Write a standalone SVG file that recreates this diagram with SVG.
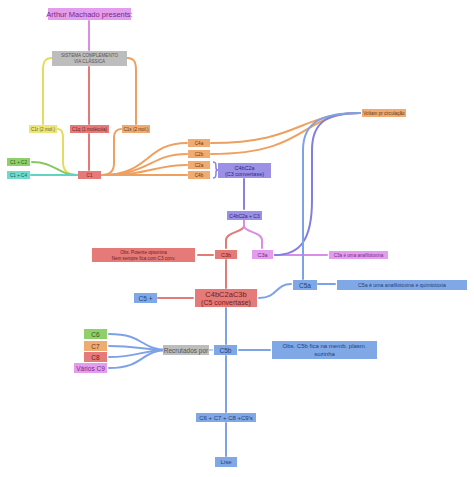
<svg xmlns="http://www.w3.org/2000/svg" width="474" height="477" viewBox="0 0 474 477">
<style>
text{font-family:"Liberation Sans",Arial,sans-serif;text-anchor:middle;dominant-baseline:central}
.c{fill:none;stroke-width:2;stroke-linecap:round}
.vi{fill:#e29ded}.gr{fill:#bdbdbd}.ye{fill:#ece57a}.re{fill:#e57a78}.or{fill:#efab72}.gn{fill:#8fd06a}.cy{fill:#6fdccb}.pu{fill:#9b8fe6}.bl{fill:#80a8e6}
.tvi{fill:#7a2a88}.tgr{fill:#555}.tye{fill:#6d6420}.tre{fill:#6e2222}.tor{fill:#6b3a10}.tgn{fill:#2f5a1a}.tcy{fill:#1d5a52}.tpu{fill:#2f2a7a}.tbl{fill:#1f3f78}
.s{font-size:4.6px}.m{font-size:6.5px}.l{font-size:7.5px}
</style>
<g id="connectors">
<path class="c" stroke="#d98de6" d="M89,21 V50"/>
<path class="c" stroke="#e6dc5c" d="M52,58 C45,58 43,62 43,70 V124"/>
<path class="c" stroke="#e27a77" d="M89,67 V124"/>
<path class="c" stroke="#eea060" d="M127,58 C134,58 136,62 136,70 V124"/>
<path class="c" stroke="#e6dc5c" d="M58,129 C62,129 63,132 63,138 V162 C63,170 67,175 77,175"/>
<path class="c" stroke="#e27a77" d="M89,134 V170"/>
<path class="c" stroke="#eea060" d="M121,129 C117,129 114,132 114,138 V163 C114,171 110,175 102,175"/>
<path class="c" stroke="#86c862" d="M32,162 C55,162 58,175 77,175"/>
<path class="c" stroke="#5fd4c2" d="M31,175 H77"/>
<path class="c" stroke="#eea060" d="M102,175 C150,175 145,143 187,143"/>
<path class="c" stroke="#eea060" d="M102,175 C150,175 150,154 187,154"/>
<path class="c" stroke="#eea060" d="M102,175 C150,175 155,165 187,165"/>
<path class="c" stroke="#eea060" d="M102,175 H187"/>
<path class="c" stroke="#eea060" d="M211,143 C300,143 300,113 360,113"/>
<path class="c" stroke="#eea060" d="M211,154 C310,154 300,113 360,113"/>
<path fill="none" stroke="#8a7fe0" stroke-width="1.5" d="M213,162 C216,162 216,164 216,168 C216,170 217,170 218,170 C217,170 216,170 216,172 C216,176 216,178 213,178"/>
<path class="c" stroke="#8a7fe0" d="M244,179 V209"/>
<path class="c" stroke="#e27a77" d="M244,221 V226 C244,232 226,232 226,240 V248"/>
<path class="c" stroke="#d98de6" d="M244,221 V226 C244,232 262,232 262,240 V248"/>
<path class="c" stroke="#e27a77" d="M198,255 H213"/>
<path class="c" stroke="#d98de6" d="M275,255 H327"/>
<path class="c" stroke="#7f7fe0" d="M275,255 C300,255 312,240 312,200 V150 C312,120 330,113 360,113"/>
<path class="c" stroke="#7ea2e8" d="M303,279 V150 C303,120 325,113 360,113"/>
<path class="c" stroke="#e27a77" d="M226,260 V288"/>
<path class="c" stroke="#e27a77" d="M158,298 H193"/>
<path class="c" stroke="#7ea2e8" d="M259,298 C278,298 275,284 291,284"/>
<path class="c" stroke="#7ea2e8" d="M318,284 H335"/>
<path class="c" stroke="#7ea2e8" d="M226,308 V344"/>
<path class="c" stroke="#7ea2e8" d="M239,350 H270"/>
<path class="c" stroke="#7ea2e8" d="M109,334 C145,334 140,350 168,350"/>
<path class="c" stroke="#7ea2e8" d="M109,346 C140,346 140,350 168,350"/>
<path class="c" stroke="#7ea2e8" d="M109,357 C140,357 140,350 168,350"/>
<path class="c" stroke="#7ea2e8" d="M109,368 C145,368 140,350 168,350"/>
<path fill="none" stroke="#7ea2e8" stroke-width="1" d="M209,350 H213"/>
<path class="c" stroke="#7ea2e8" d="M226,356 V412"/>
<path class="c" stroke="#7ea2e8" d="M226,423 V456"/>
</g>
<g id="arthur"><rect class="vi" x="48" y="8" width="83" height="12"/><text class="tvi l" x="89.5" y="14">Arthur Machado presents:</text></g>
<g id="sistema"><rect class="gr" x="52" y="51" width="75" height="15"/><text class="tgr s" x="89.5" y="55.5">SISTEMA COMPLEMENTO</text><text class="tgr s" x="89.5" y="61.5">VIA CLÁSSICA</text></g>
<g id="c1r"><rect class="ye" x="29" y="125" width="28" height="8"/><text class="tye s" x="43" y="129">C1r (2 mol.)</text></g>
<g id="c1q"><rect class="re" x="70" y="125" width="39" height="8"/><text class="tre s" x="89.5" y="129">C1q (1 molécula)</text></g>
<g id="c1s"><rect class="or" x="122" y="125" width="28" height="8"/><text class="tor s" x="136" y="129">C1s (2 mol.)</text></g>
<g id="c1c2"><rect class="gn" x="7" y="158" width="23" height="8"/><text class="tgn s" x="18.5" y="162">C1 + C2</text></g>
<g id="c1c4"><rect class="cy" x="7" y="171" width="23" height="8"/><text class="tcy s" x="18.5" y="175">C1 + C4</text></g>
<g id="c1"><rect class="re" x="78" y="171" width="23" height="8"/><text class="tre s" x="89.5" y="175">C1</text></g>
<g id="c4a"><rect class="or" x="188" y="139" width="22" height="8"/><text class="tor s" x="199" y="143">C4a</text></g>
<g id="c2b"><rect class="or" x="188" y="150" width="22" height="8"/><text class="tor s" x="199" y="154">C2b</text></g>
<g id="c2a"><rect class="or" x="188" y="161" width="22" height="8"/><text class="tor s" x="199" y="165">C2a</text></g>
<g id="c4b"><rect class="or" x="188" y="171" width="22" height="8"/><text class="tor s" x="199" y="175">C4b</text></g>
<g id="voltam"><rect class="or" x="362" y="109" width="44" height="8"/><text class="tor s" x="384" y="113">Voltam pr circulação</text></g>
<g id="c3conv"><rect class="pu" x="218" y="163" width="53" height="15"/><text class="tpu m" x="244.5" y="167.5" style="font-size:5.5px">C4bC2a</text><text class="tpu m" x="244.5" y="174" style="font-size:5.5px">(C3 convertase)</text></g>
<g id="c4bc2ac3"><rect class="pu" x="227" y="211" width="35" height="9"/><text class="tpu s" x="244.5" y="215.5" style="font-size:5px">C4bC2a + C3</text></g>
<g id="obs1"><rect class="re" x="92" y="248" width="103" height="14"/><text class="tre s" x="143.5" y="252">Obs. Potente opsonina</text><text class="tre s" x="143.5" y="258">Nem sempre fica com C3 conv.</text></g>
<g id="c3b"><rect class="re" x="215" y="250" width="22" height="9"/><text class="tre s" x="226" y="254.5" style="font-size:5.5px">C3b</text></g>
<g id="c3a"><rect class="vi" x="252" y="250" width="21" height="9"/><text class="tvi s" x="262.5" y="254.5" style="font-size:5.5px">C3a</text></g>
<g id="c3anaf"><rect class="vi" x="329" y="251" width="59" height="8"/><text class="tvi s" x="358.5" y="255">C3a é uma anafilotoxina</text></g>
<g id="c5plus"><rect class="bl" x="134" y="293" width="23" height="10"/><text class="tbl m" x="145.5" y="298">C5 +</text></g>
<g id="c5conv"><rect class="re" x="195" y="289" width="62" height="18"/><text class="tre l" x="226" y="294" style="font-size:7.5px">C4bC2aC3b</text><text class="tre l" x="226" y="302" style="font-size:7px">(C5 convertase)</text></g>
<g id="c5a"><rect class="bl" x="293" y="280" width="24" height="10"/><text class="tbl m" x="305" y="285">C5a</text></g>
<g id="c5anaf"><rect class="bl" x="337" y="280" width="130" height="10"/><text class="tbl s" x="402" y="285" style="font-size:5.2px">C5a é uma anafilotoxina e quimiotoxia</text></g>
<g id="c6"><rect class="gn" x="84" y="329" width="23" height="10"/><text class="tgn m" x="95.5" y="334">C6</text></g>
<g id="c7"><rect class="or" x="84" y="341" width="23" height="10"/><text class="tor m" x="95.5" y="346">C7</text></g>
<g id="c8"><rect class="re" x="84" y="352" width="23" height="10"/><text class="tre m" x="95.5" y="357">C8</text></g>
<g id="c9"><rect class="vi" x="74" y="363" width="33" height="10"/><text class="tvi m" x="90.5" y="368">Vários C9</text></g>
<g id="recrutados"><rect class="gr" x="163" y="345" width="46" height="10"/><text class="tgr m" x="186" y="350">Recrutados por</text></g>
<g id="c5b"><rect class="bl" x="214" y="345" width="23" height="10"/><text class="tbl m" x="225.5" y="350">C5b</text></g>
<g id="obs2"><rect class="bl" x="272" y="341" width="105" height="18"/><text class="tbl m" x="324.5" y="346" style="font-size:6px">Obs. C5b fica na memb. plasm.</text><text class="tbl m" x="324.5" y="354" style="font-size:6px">sozinha</text></g>
<g id="mac"><rect class="bl" x="196" y="413" width="60" height="9"/><text class="tbl m" x="226" y="417.5" style="font-size:6px">C6 + C7 + C8 +C9's</text></g>
<g id="lise"><rect class="bl" x="215" y="457" width="22" height="10"/><text class="tbl m" x="226" y="462" style="font-size:6px">Lise</text></g>
</svg>
